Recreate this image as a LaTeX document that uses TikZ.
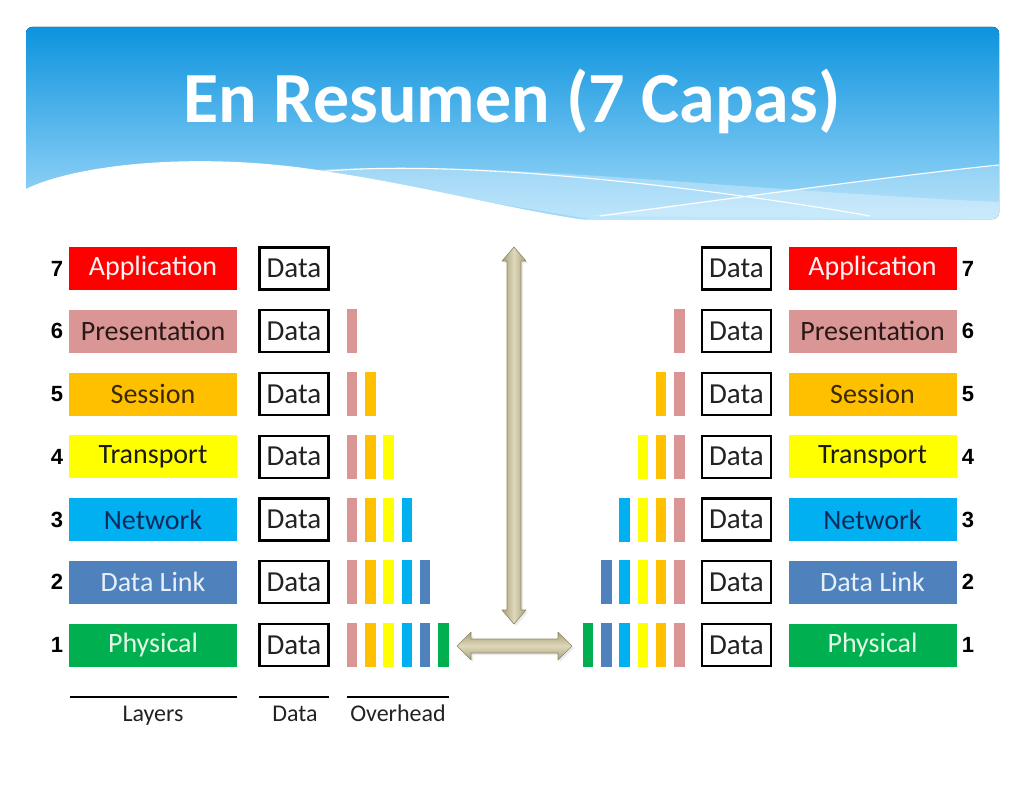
\documentclass[tikz,border=0pt]{standalone}
\usepackage{fontspec}
\setmainfont{Carlito}
\newfontfamily\numfont{Liberation Sans}
\usetikzlibrary{calc}
\definecolor{hdrtop}{HTML}{0D93DE}
\definecolor{hdrbot}{HTML}{A0DAF9}
\definecolor{c7}{HTML}{FF0000}
\definecolor{c6}{HTML}{D99694}
\definecolor{c5}{HTML}{FFC000}
\definecolor{c4}{HTML}{FFFF00}
\definecolor{c3}{HTML}{00B0F0}
\definecolor{c2}{HTML}{4F81BD}
\definecolor{c1}{HTML}{00B050}
\definecolor{t7}{HTML}{FFF2F2}
\definecolor{t6}{HTML}{2A1818}
\definecolor{t5}{HTML}{3A2800}
\definecolor{t4}{HTML}{1A1A10}
\definecolor{t3}{HTML}{0F2A5C}
\definecolor{t2}{HTML}{E6F0FA}
\definecolor{t1}{HTML}{E4F8E8}
\definecolor{arrowmid}{HTML}{DED8BA}
\definecolor{arrowedge}{HTML}{A8A07C}
\definecolor{arrowline}{HTML}{8E8664}
\definecolor{txtdark}{HTML}{222222}
\begin{document}
\begin{tikzpicture}[x=1pt,y=-1pt,
  layerbox/.style={rectangle, inner sep=0pt, minimum width=168pt, minimum height=43pt, font=\fontsize{28}{31}\selectfont},
  databox/.style={rectangle, draw=black, line width=2.2pt, inner sep=0pt, minimum width=69pt, minimum height=42pt, font=\fontsize{29}{32}\selectfont, text=txtdark},
  numlabel/.style={inner sep=0pt, font=\numfont\bfseries\fontsize{22}{25}\selectfont, text=black},
  bar/.style={rectangle, inner sep=0pt, minimum width=10.5pt, minimum height=44pt},
  caption/.style={inner sep=0pt, font=\fontsize{24}{28}\selectfont, text=txtdark, anchor=base},
  fatarrow/.style={draw=arrowline, line width=0.6pt, line join=round},
]
\useasboundingbox (0,0) rectangle (1024,792);
% header
\fill[rounded corners=6pt, top color=hdrtop, bottom color=hdrbot] (26,27) rectangle (999,219);
\fill[white, opacity=0.30] (300,171) .. controls (480,158) and (700,188) .. (999,202) -- (999,219) -- (590,219) -- cycle;
\fill[white, opacity=0.22] (588,216) .. controls (750,196) and (900,174) .. (999,166) -- (999,219) -- cycle;
\fill[white] (20,192) .. controls (70,164) and (200,150) .. (330,172) .. controls (430,187) and (520,212) .. (600,222) -- (600,232) -- (20,232) -- cycle;
\draw[white, line width=1.1pt] (318,172) .. controls (450,158) and (700,186) .. (870,216);
\draw[white, line width=1.1pt] (600,216) .. controls (750,196) and (900,175) .. (999,165);
\node[inner sep=0pt, anchor=base, text=white, font=\bfseries\fontsize{72}{82}\selectfont] (title) at (512,122) {En Resumen (7 Capas)};
% rows
\foreach \n/\nm in {7/Application,6/Presentation,5/Session,4/Transport,3/Network,2/Data Link,1/Physical}{
  \pgfmathsetmacro{\yy}{268.5+(7-\n)*62.75}
  \node[numlabel] (nl\n) at (57,\yy) {\n};
  \node[layerbox, fill=c\n, text=t\n] (L\n) at (153,\yy) {\nm};
  \node[databox] (DL\n) at (294,\yy) {Data};
  \node[databox] (DR\n) at (736.5,\yy) {Data};
  \node[layerbox, fill=c\n, text=t\n] (R\n) at (872.5,\yy) {\nm};
  \node[numlabel] (nr\n) at (968,\yy) {\n};
}
% overhead bars
\foreach \n in {1,...,6}{
  \foreach \k in {\n,...,6}{
    \pgfmathsetmacro{\yy}{268.5+(7-\n)*62.75}
    \pgfmathsetmacro{\xl}{352+18.3*(6-\k)}
    \pgfmathsetmacro{\xr}{679.5-18.3*(6-\k)}
    \node[bar, fill=c\k] (bl\n-\k) at (\xl,\yy) {};
    \node[bar, fill=c\k] (br\n-\k) at (\xr,\yy) {};
  }
}
% vertical double arrow
\coordinate (vtop) at (514,247);
\coordinate (vbot) at (514,624);
\fill[black, opacity=0.08] ($(vtop)+(2,2)$) -- ($(vtop)+(14,16)$) -- ($(vtop)+(9,16)$) -- ($(vbot)+(9,-12)$) -- ($(vbot)+(14,-12)$) -- ($(vbot)+(2,2)$) -- ($(vbot)+(-10,-12)$) -- ($(vbot)+(-5,-12)$) -- ($(vtop)+(-5,16)$) -- ($(vtop)+(-10,16)$) -- cycle;
\draw[fatarrow, left color=arrowedge, right color=arrowedge, middle color=arrowmid]
  (vtop) -- ($(vtop)+(12,14)$) -- ($(vtop)+(7,14)$) -- ($(vbot)+(7,-14)$) -- ($(vbot)+(12,-14)$) -- (vbot)
  -- ($(vbot)+(-12,-14)$) -- ($(vbot)+(-7,-14)$) -- ($(vtop)+(-7,14)$) -- ($(vtop)+(-12,14)$) -- cycle;
% horizontal double arrow
\coordinate (hl) at (457,646);
\coordinate (hr) at (572,646);
\fill[black, opacity=0.08] ($(hl)+(2,2)$) -- ($(hl)+(16,-10)$) -- ($(hl)+(16,-3)$) -- ($(hr)+(-12,-3)$) -- ($(hr)+(-12,-10)$) -- ($(hr)+(2,2)$) -- ($(hr)+(-12,16)$) -- ($(hr)+(-12,9)$) -- ($(hl)+(16,9)$) -- ($(hl)+(16,16)$) -- cycle;
\draw[fatarrow, top color=arrowedge, bottom color=arrowedge, middle color=arrowmid]
  (hl) -- ($(hl)+(14,-14)$) -- ($(hl)+(14,-7)$) -- ($(hr)+(-14,-7)$) -- ($(hr)+(-14,-14)$) -- (hr)
  -- ($(hr)+(-14,14)$) -- ($(hr)+(-14,7)$) -- ($(hl)+(14,7)$) -- ($(hl)+(14,14)$) -- cycle;
% bottom captions
\coordinate (ul1a) at (70,697);  \coordinate (ul1b) at (237,697);
\coordinate (ul2a) at (259,697); \coordinate (ul2b) at (329,697);
\coordinate (ul3a) at (347,697); \coordinate (ul3b) at (449,697);
\draw[black, line width=1.1pt] (ul1a) -- (ul1b);
\draw[black, line width=1.1pt] (ul2a) -- (ul2b);
\draw[black, line width=1.1pt] (ul3a) -- (ul3b);
\node[caption] (capL) at (153,721) {Layers};
\node[caption] (capD) at (295,721) {Data};
\node[caption] (capO) at (398,721) {Overhead};
\end{tikzpicture}
\end{document}
